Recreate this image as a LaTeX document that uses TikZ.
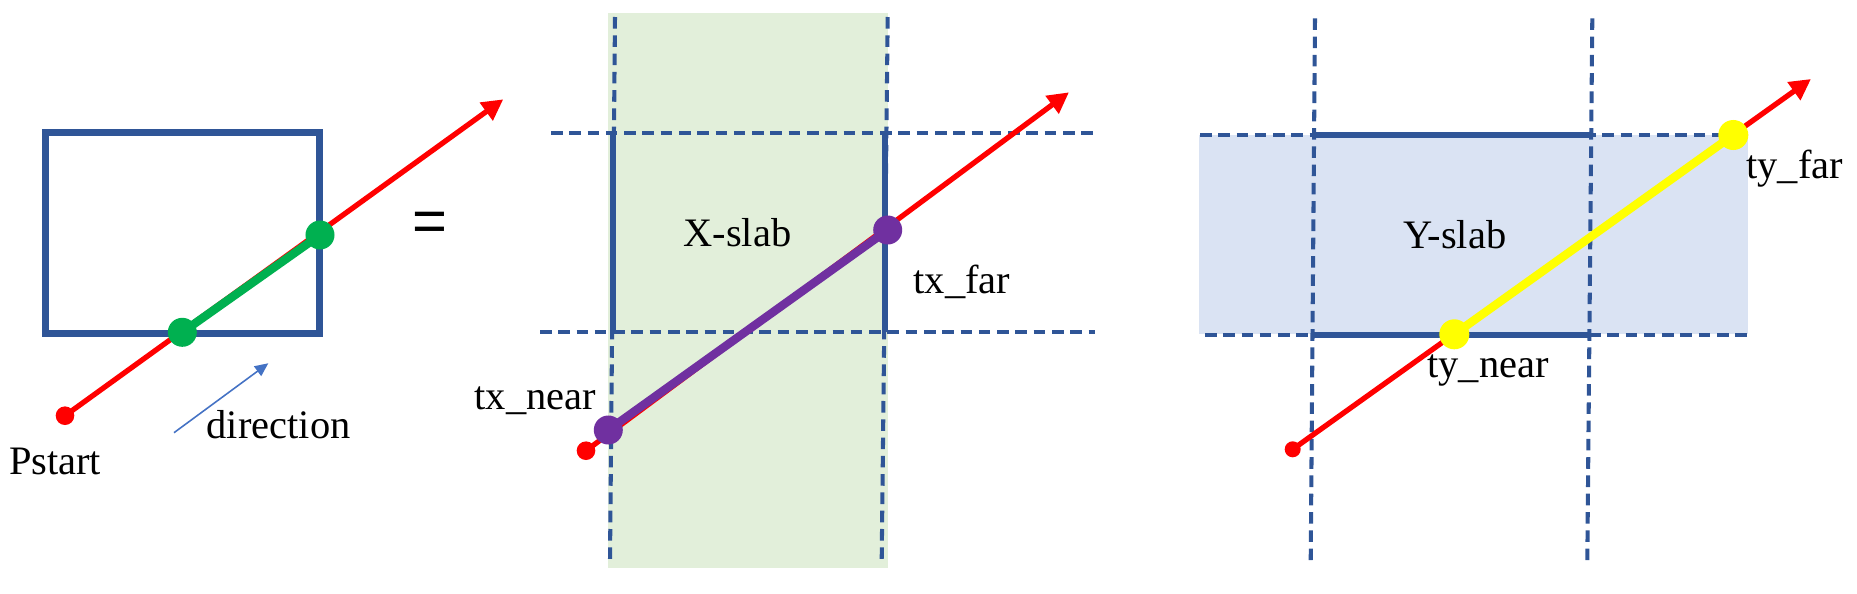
\documentclass[tikz,border=0pt]{standalone}
\usepackage{fontspec}
\setmainfont{Liberation Serif}
\newfontfamily\lblfont{Liberation Serif}
\newfontfamily\eqfont{Liberation Sans}
\usetikzlibrary{arrows.meta}
\definecolor{boxblue}{HTML}{2F5597}
\definecolor{rayred}{HTML}{FF0000}
\definecolor{hitgreen}{HTML}{00B050}
\definecolor{hitpurple}{HTML}{7030A0}
\definecolor{hityellow}{HTML}{FFFF00}
\definecolor{slabgreen}{HTML}{E2EFDA}
\definecolor{slabblue}{HTML}{DAE3F3}
\definecolor{dirblue}{HTML}{4472C4}
\begin{document}
\begin{tikzpicture}[x=0.01cm,y=-0.01cm,
  lbl/.style={inner sep=0pt, anchor=base west, font=\lblfont\fontsize{11.5}{13}\selectfont},
  clbl/.style={inner sep=0pt, anchor=base, font=\lblfont\fontsize{11.5}{13}\selectfont},
  ray/.style={draw=rayred, line width=1.5pt, -{Triangle[length=6pt,width=6pt]}},
  startdot/.style={circle, fill=rayred, inner sep=0pt, minimum size=#1},
  hitdot/.style={circle, fill=#1, inner sep=0pt, minimum size=0.29cm},
  hitseg/.style={draw=#1, line width=2.4pt},
  gridline/.style={draw=boxblue, line width=1.15pt, dash pattern=on 3.3pt off 1.9pt},
  slabedge/.style={draw=boxblue, line width=1.6pt},
]
\useasboundingbox (0,0) rectangle (1857,594);

% ---------- coordinates ----------
\coordinate (s1) at (65,415.7);   \coordinate (t1) at (503.3,99.3);
\coordinate (g1) at (182.3,332.3); \coordinate (g2) at (320,235);
\coordinate (d0) at (174,432.7);  \coordinate (d1) at (268.3,363.3);

\coordinate (s2) at (586,450.7);  \coordinate (t2) at (1069,92.3);
\coordinate (p1) at (608.3,430);  \coordinate (p2) at (887.7,230);

\coordinate (s3) at (1292.7,449.3); \coordinate (t3) at (1811,79);
\coordinate (q1) at (1454.3,334.3); \coordinate (q2) at (1733.3,135);

% ---------- panel 1 ----------
\draw[boxblue, line width=2pt] (45.7,132.7) rectangle (319.3,333.3);
\draw[ray] (s1) -- (t1);
\draw[hitseg=hitgreen] (g1) -- (g2);
\node[startdot=0.186cm] (S1) at (s1) {};
\node[hitdot=hitgreen] (G1) at (g1) {};
\node[hitdot=hitgreen] (G2) at (g2) {};
\draw[dirblue, line width=0.45pt, -{Triangle[length=3.8pt,width=3.4pt]}] (d0) -- (d1);
\node[lbl] (pstart) at (8.3,474) {Pstart};
\node[lbl] (dir) at (206,438.3) {direction};
\node[inner sep=0pt, font=\eqfont\fontsize{17}{20}\selectfont] (eq) at (430,227.3) {=};

% ---------- panel 2 ----------
\fill[slabgreen] (608.3,12.7) rectangle (888.3,568);
\draw[gridline] (615,17) -- (610,560);
\draw[gridline] (887.7,17) -- (881.7,560);
\draw[gridline] (551,132.7) -- (1095,132.7);
\draw[gridline] (540,332.3) -- (1095,332.3);
\draw[slabedge] (613.3,132.7) -- (613.3,332.3);
\draw[slabedge] (885,132.7) -- (885,332.3);
\draw[ray] (s2) -- (t2);
\draw[hitseg=hitpurple] (p1) -- (p2);
\node[startdot=0.186cm] (S2) at (s2) {};
\node[hitdot=hitpurple] (P1) at (p1) {};
\node[hitdot=hitpurple] (P2) at (p2) {};
\node[clbl] (xslab) at (737.5,246.7) {X-slab};
\node[lbl] (txfar) at (913,293) {tx\_far};
\node[lbl] (txnear) at (474,409.3) {tx\_near};

% ---------- panel 3 ----------
\fill[slabblue] (1199,135) rectangle (1748.3,334.3);
\draw[gridline] (1315,18.3) -- (1310.7,561.7);
\draw[gridline] (1592.3,18.3) -- (1587.3,561.7);
\draw[gridline] (1200,135) -- (1748,135);
\draw[gridline] (1205,335) -- (1748,335);
\draw[slabedge] (1315,135) -- (1592.3,135);
\draw[slabedge] (1311,335) -- (1588,335);
\draw[ray] (s3) -- (t3);
\draw[hitseg=hityellow] (q1) -- (q2);
\node[startdot=0.16cm] (S3) at (s3) {};
\node[hitdot=hityellow, minimum size=0.3cm] (Q1) at (q1) {};
\node[hitdot=hityellow, minimum size=0.3cm] (Q2) at (q2) {};
\node[clbl] (yslab) at (1454.7,248.3) {Y-slab};
\node[lbl] (tynear) at (1426.7,377.3) {ty\_near};
\node[lbl] (tyfar) at (1745.7,178.3) {ty\_far};
\end{tikzpicture}
\end{document}
